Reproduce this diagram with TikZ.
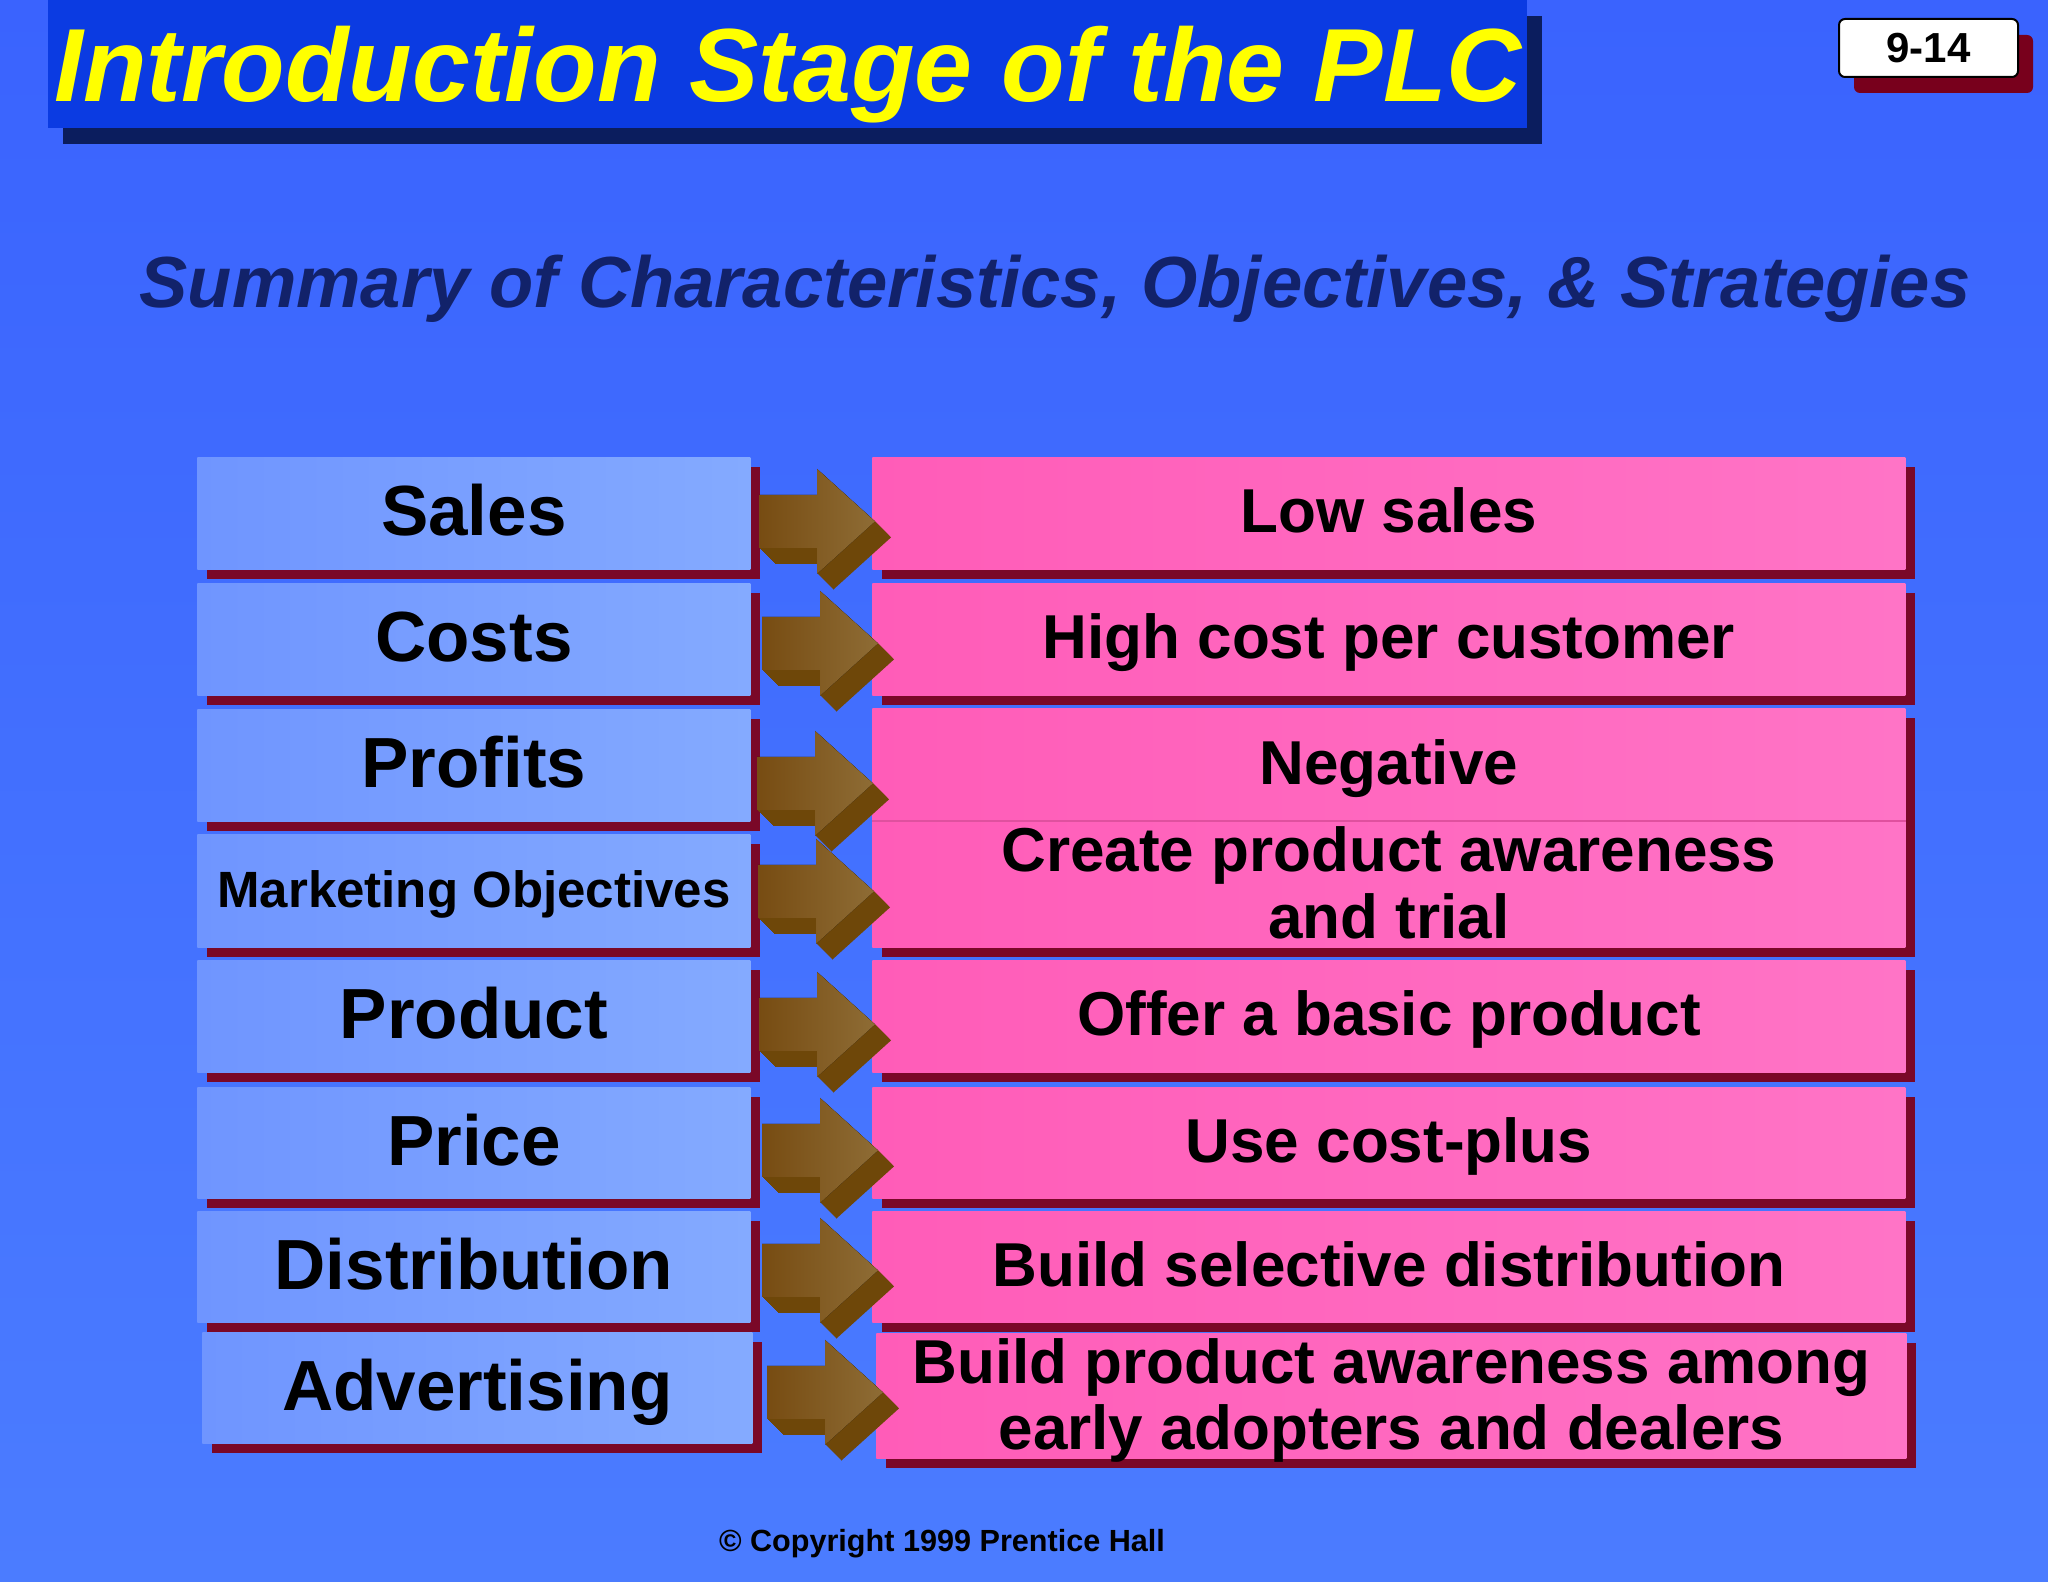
\documentclass[tikz,border=0pt]{standalone}
\usepackage{fontspec}
\setmainfont{Liberation Sans}
\usetikzlibrary{shadows}
\definecolor{bgtop}{HTML}{3A63FE}
\definecolor{bgbot}{HTML}{4B7CFF}
\definecolor{titleblue}{HTML}{0B3BE2}
\definecolor{titleshadow}{HTML}{0B1D5E}
\definecolor{subnavy}{HTML}{12226A}
\definecolor{boxshadow}{HTML}{7A0828}
\definecolor{lblueA}{HTML}{6F95FF}
\definecolor{lblueB}{HTML}{84AAFF}
\definecolor{pinkA}{HTML}{FF5CB8}
\definecolor{pinkB}{HTML}{FF74C6}
\definecolor{pinkline}{HTML}{E0509F}
\definecolor{arrowdark}{HTML}{6E4709}
\definecolor{arrowA}{HTML}{774C12}
\definecolor{arrowB}{HTML}{8E6C35}
\definecolor{badgeshadow}{HTML}{78001C}
\definecolor{titleyellow}{HTML}{FFFF00}
\tikzset{
  plcarrow/.pic={
    \foreach \k in {1,...,16}{
      \fill[arrowdark, shift={(\k,\k)}] (-116,-26.5) -- (-58,-26.5) -- (-58,-52.5) -- (0,0)
        -- (-58,52.5) -- (-58,26.5) -- (-116,26.5) -- cycle;
    }
    \fill[left color=arrowA, right color=arrowB] (-116,-26.5) -- (-58,-26.5) -- (-58,-52.5) -- (0,0)
        -- (-58,52.5) -- (-58,26.5) -- (-116,26.5) -- cycle;
  }
}
\begin{document}
\begin{tikzpicture}[x=0.5pt,y=-0.5pt,
  boxbase/.style={anchor=north west, inner sep=0pt,
    general shadow={fill=boxshadow, shadow xshift=5pt, shadow yshift=-5pt}},
  lbox/.style={boxbase, left color=lblueA, right color=lblueB, minimum width=276.5pt,
    font=\fontsize{35.5}{40}\selectfont\bfseries, text height=25.4pt, text depth=3pt},
  lboxsmall/.style={lbox, font=\fontsize{25.5}{30}\selectfont\bfseries, text height=18.3pt, text depth=1.5pt},
  rbox/.style={boxbase, left color=pinkA, right color=pinkB, minimum width=516.5pt,
    font=\fontsize{31}{33.3}\selectfont\bfseries, text height=22.2pt, text depth=3pt},
  rboxtwo/.style={rbox, text depth=35pt},
]
\useasboundingbox (0,0) rectangle (2048,1582);
\fill[top color=bgtop, bottom color=bgbot] (0,0) rectangle (2048,1582);

% title
\node[anchor=north west, inner sep=0pt, fill=titleblue, minimum width=739.5pt, minimum height=64pt,
  general shadow={fill=titleshadow, shadow xshift=7.5pt, shadow yshift=-8pt},
  font=\fontsize{52}{60}\selectfont\bfseries\itshape, text=titleyellow,
  text height=37.2pt, text depth=0pt] (title) at (48,0) {Introduction Stage of the PLC};

% badge
\node[anchor=north west, inner sep=0pt, fill=white, draw=black, line width=1pt, rounded corners=3pt,
  minimum width=89.5pt, minimum height=29pt,
  general shadow={fill=badgeshadow, shadow xshift=7.5pt, shadow yshift=-8pt},
  font=\fontsize{21}{24}\selectfont\bfseries, text height=15pt, text depth=0pt] (badge) at (1838,18) {9-14};

% subtitle
\node[anchor=base, inner sep=0pt, text=subnavy, font=\fontsize{36.2}{40}\selectfont\bfseries\itshape]
  (subtitle) at (1055,308) {Summary of Characteristics, Objectives, \& Strategies};

% left boxes
\node[lbox, minimum height=56pt] (L1) at (197,457) {Sales};
\node[lbox, minimum height=56pt] (L2) at (197,583) {Costs};
\node[lbox, minimum height=56pt] (L3) at (197,709) {Profits};
\node[lboxsmall, minimum height=56.5pt] (L4) at (197,834) {Marketing Objectives};
\node[lbox, minimum height=56pt] (L5) at (197,960) {Product};
\node[lbox, minimum height=55.5pt] (L6) at (197,1087) {Price};
\node[lbox, minimum height=55.5pt] (L7) at (197,1211) {Distribution};
\node[lbox, minimum height=55.5pt, minimum width=275pt] (L8) at (202,1332) {Advertising};

% right boxes
\node[rbox, minimum height=56pt] (R1) at (872,457) {Low sales};
\node[rbox, minimum height=56pt] (R2) at (872,583) {High cost per customer};
\node[rbox, minimum height=56.5pt] (R3) at (872,708) {Negative};
\node[rboxtwo, minimum height=63pt] (R4) at (872,821)
  {\begin{tabular}[t]{@{}c@{}}Create product awareness\\and trial\end{tabular}};
\draw[pinkline, line width=0.6pt] (R4.north west) -- (R4.north east);
\node[rbox, minimum height=56pt] (R5) at (872,960) {Offer a basic product};
\node[rbox, minimum height=55.5pt] (R6) at (872,1087) {Use cost-plus};
\node[rbox, minimum height=55.5pt] (R7) at (872,1211) {Build selective distribution};
\node[rboxtwo, minimum height=62.5pt, minimum width=515pt] (R8) at (876,1333)
  {\begin{tabular}[t]{@{}c@{}}Build product awareness among\\early adopters and dealers\end{tabular}};

% arrows
\pic at ([shift={(3,8)}]R1.west) {plcarrow};
\pic at ([shift={(6,4)}]R2.west) {plcarrow};
\pic at ([shift={(1,18.5)}]R3.west) {plcarrow};
\pic at ([shift={(2,7)}]R4.west) {plcarrow};
\pic at ([shift={(3,8)}]R5.west) {plcarrow};
\pic at ([shift={(6,7.5)}]R6.west) {plcarrow};
\pic at ([shift={(6,3.5)}]R7.west) {plcarrow};
\pic at ([shift={(7,-3.5)}]R8.west) {plcarrow};

% copyright
\node[anchor=base, inner sep=0pt, font=\fontsize{15.3}{18}\selectfont\bfseries]
  (copy) at (942,1551) {\textcopyright{} Copyright 1999 Prentice Hall};
\end{tikzpicture}
\end{document}
